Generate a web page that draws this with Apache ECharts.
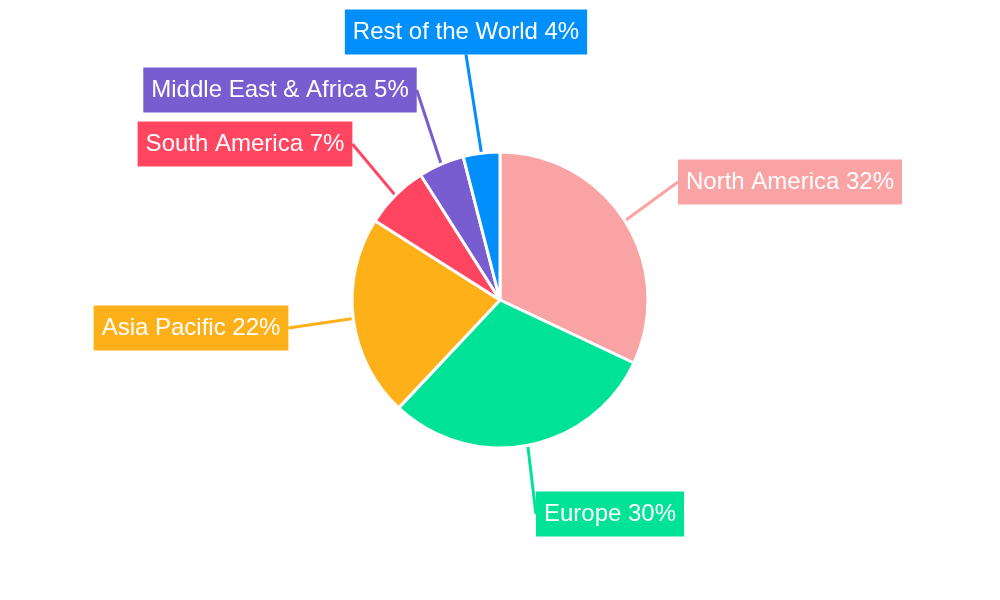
<!DOCTYPE html>
<html><head><meta charset="utf-8">
<script src="https://cdn.jsdelivr.net/npm/echarts@6/dist/echarts.min.js"></script>
<style>html,body{margin:0;padding:0;background:#fff}#c{width:1000px;height:600px}</style>
</head><body><div id="c"></div>
<script>
const categories = ["North America","Europe","Asia Pacific","South America","Middle East & Africa","Rest of the World"];
const values = [32,30,22,7,5,4];
const colors = ["#F9A3A4","#00E396","#FEB019","#FF4560","#775DD0","#008FFB"];
const labelPos = [[790,182],[610,514],[191,328],[245,144],[280,90],[466,32]];
const chart = echarts.init(document.getElementById('c'));
chart.setOption({
  animation:false,
  series:[{
    type:'pie', center:[500,300], radius:[0,148], startAngle:90, clockwise:true,
    itemStyle:{borderColor:'#fff',borderWidth:3},
    label:{formatter:'{b} {c}%', color:'#fff', fontSize:24, fontFamily:'Liberation Sans, Arial, sans-serif',
      padding:[12,8,9,8]},
    labelLine:{length:30,length2:0,smooth:false,lineStyle:{width:3}},
    labelLayout: p => ({x:labelPos[p.dataIndex][0], y:labelPos[p.dataIndex][1], align:'center', verticalAlign:'middle'}),
    data: categories.map((n,i)=>({name:n,value:values[i],itemStyle:{color:colors[i]},label:{backgroundColor:colors[i]}}))
  }]
});
</script></body></html>
